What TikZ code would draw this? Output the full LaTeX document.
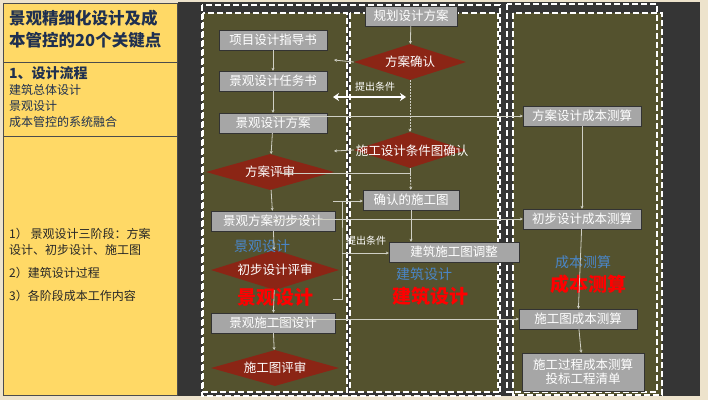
\documentclass[tikz,border=0pt]{standalone}
\usepackage{fontspec}
\setmainfont{Noto Sans CJK SC}
\usetikzlibrary{shapes.geometric,arrows.meta,positioning}
\definecolor{beige}{HTML}{EDE3CC}
\definecolor{panel}{HTML}{353535}
\definecolor{olive}{HTML}{54522E}
\definecolor{notepad}{HTML}{FFD966}
\definecolor{navy}{HTML}{1F3050}
\definecolor{boxgray}{HTML}{A6A6A6}
\definecolor{rustred}{HTML}{8B2515}
\definecolor{wire}{HTML}{CFCFC4}
\definecolor{tagblue}{HTML}{4A86C8}
\tikzset{
	% ---- default
	every node/.style={font=\fontsize{12.5}{14}\selectfont},
	% ---- custom
	stepbox/.style={draw=black!80, fill=boxgray, text=white, inner sep=0pt, minimum height=20pt},
	review/.style={diamond, draw=none, fill=rustred, text=white, aspect=3.4, inner sep=0pt, minimum height=36pt},
	flow/.style={wire, line width=0.8pt, -{Stealth[length=3pt,width=3pt]}},
	column/.style={white, line width=1.2pt, dash pattern=on 6pt off 3pt},
	bluetag/.style={tagblue, font=\fontsize{14}{16}\selectfont},
	redtag/.style={red, font=\fontsize{19}{22}\selectfont\bfseries},
}
\begin{document}
\begin{tikzpicture}[x=1pt,y=-1pt]

% background %{{{2

	\useasboundingbox (0,0) rectangle (708,400);
	\fill[beige] (0,0) rectangle (708,400);
	\fill[panel] (178,2) rectangle (700,396);

% side notes %{{{2

	\fill[notepad, draw=black!70, line width=0.8pt] (3,3) rectangle (177,395);
	\draw[black!70, line width=0.8pt] (3,62) -- (177,62) (3,136) -- (177,136);
	\node[anchor=north west, navy, align=left, inner sep=0pt, font=\fontsize{16.5}{22}\selectfont\bfseries] (title) at (9,10)
		{景观精细化设计及成\\本管控的20个关键点};
	\node[anchor=north west, navy, align=left, inner sep=0pt, font=\fontsize{12}{16}\selectfont] (flowhead) at (9,66)
		{{\fontsize{14}{16}\selectfont\bfseries 1、设计流程}\\
		 建筑总体设计\\ 景观设计\\ 成本管控的系统融合};
	\node[anchor=north west, black!85, align=left, inner sep=0pt, font=\fontsize{12}{16}\selectfont] (notes) at (9,228)
		{1） 景观设计三阶段：方案\\ 设计、初步设计、施工图\\[7pt]
		 2）建筑设计过程\\[7pt] 3）各阶段成本工作内容};

% columns %{{{2

	\fill[olive] (203,13) rectangle (347,392);
	\fill[olive] (350,13) rectangle (498,392);
	\fill[olive] (513,13) rectangle (662,395);
	\draw[column] (202,5) rectangle (500,396);
	\draw[column] (203,13) rectangle (347,392);
	\draw[column] (350,13) rectangle (498,392);
	\draw[column] (507,4) rectangle (657,392);
	\draw[column] (513,13) rectangle (662,395);

% landscape nodes %{{{2

	\node[stepbox, minimum width=108pt] (guide) at (273,40) {项目设计指导书};
	\node[stepbox, minimum width=108pt] (brief) at (273,81) {景观设计任务书};
	\node[stepbox, minimum width=108pt] (scheme) at (273,123) {景观设计方案};
	\node[review, minimum width=128pt] (schemerev) at (270,172) {方案评审};
	\node[stepbox, minimum width=124pt] (prelim) at (273,221) {景观方案初步设计};
	\node[review, minimum width=128pt, minimum height=40pt] (prelimrev) at (275,270) {初步设计评审};
	\node[stepbox, minimum width=124pt] (cdraw) at (273,323) {景观施工图设计};
	\node[review, minimum width=128pt] (cdrawrev) at (275,368) {施工图评审};

	\node[bluetag] (tagla) at (262,246) {景观设计};
	\node[redtag] (tiglb) at (275,297) {景观设计};

% architecture nodes %{{{2

	\node[stepbox, minimum width=92pt] (plan) at (411,16) {规划设计方案};
	\node[review, minimum width=112pt] (planok) at (410,62) {方案确认};
	\node[review, minimum width=112pt] (condok) at (410,150) {};
	\node[white] (condtext) at (412,151) {施工设计条件图确认};
	\node[stepbox, minimum width=96pt] (confirmed) at (411,200) {确认的施工图};
	\node[stepbox, minimum width=130pt] (adjust) at (454,252) {建筑施工图调整};

	\node[bluetag] (tagaa) at (424,274) {建筑设计};
	\node[redtag] (tagab) at (430,296) {建筑设计};

% cost nodes %{{{2

	\node[stepbox, minimum width=118pt] (costa) at (582,116) {方案设计成本测算};
	\node[stepbox, minimum width=118pt] (costb) at (582,219) {初步设计成本测算};
	\node[stepbox, minimum width=118pt] (costc) at (578,319) {施工图成本测算};
	\node[stepbox, minimum width=122pt, minimum height=38pt, align=center] (costd) at (583,372)
		{施工过程成本测算\\投标工程清单};

	\node[bluetag] (tagca) at (583,262) {成本测算};
	\node[redtag] (tagcb) at (588,284) {成本测算};

% coordinates %{{{2

	\coordinate (planin) at (334,60);
	\coordinate (condin) at (334,151);
	\coordinate (swapl) at (333,97);
	\coordinate (swapr) at (406,97);
	\coordinate (turn) at (410,173);
	\coordinate (turnend) at (280,173);
	\coordinate (bracktop) at (333,201);
	\coordinate (brackbot) at (333,299);
	\coordinate (brackmid) at (342,253);
	\coordinate (adjtop) at (411,242);

% connectors %{{{2

	\draw[flow] (guide) -- (brief);
	\draw[flow] (brief) -- (scheme);
	\draw[flow] (scheme) -- (schemerev);
	\draw[flow] (schemerev) -- (prelim);
	\draw[flow] (prelim) -- (prelimrev);
	\draw[flow] (prelimrev) -- (cdraw);
	\draw[flow] (cdraw) -- (cdrawrev);

	\draw[flow] (plan) -- (planok);
	\draw[flow, dash pattern=on 2pt off 1pt] (planok) -- (condok);
	\draw[flow, dash pattern=on 2pt off 1pt] (condok) -- (confirmed);
	\draw[flow] (confirmed.south -| adjtop) -- (adjust.north -| adjtop);
	\draw[flow] (planok.west) -- (planin);
	\draw[flow] (condok.west) -- (condin);
	\draw[wire, line width=0.8pt] (condok.south) -- (turn) -- (turnend);

	\draw[white, line width=2.5pt, {Stealth[length=6pt,width=8pt]}-{Stealth[length=6pt,width=8pt]}] (swapl) -- (swapr);
	\node[white, font=\fontsize{10}{12}\selectfont] (swaplabel) at (375,87) {提出条件};

	\draw[wire, line width=0.8pt] (bracktop) -| (brackmid) |- (brackbot);
	\draw[flow] (brackmid |- bracktop) -- (confirmed.west |- bracktop);
	\draw[flow] (brackmid) -- (adjust.west |- brackmid);
	\node[white, font=\fontsize{10}{12}\selectfont] (condlabel) at (366,241) {提出条件};

	\draw[flow] (scheme.center |- costa.west) -- (costa.west);
	\draw[flow] (prelim.center |- costb.west) -- (costb.west);
	\draw[flow] (cdraw.center |- costc.west) -- (costc.west);
	\draw[flow] (costa) -- (costb);
	\draw[flow] (costb) -- (costc);
	\draw[flow] (costc) -- (costd);

\end{tikzpicture}
\end{document}
